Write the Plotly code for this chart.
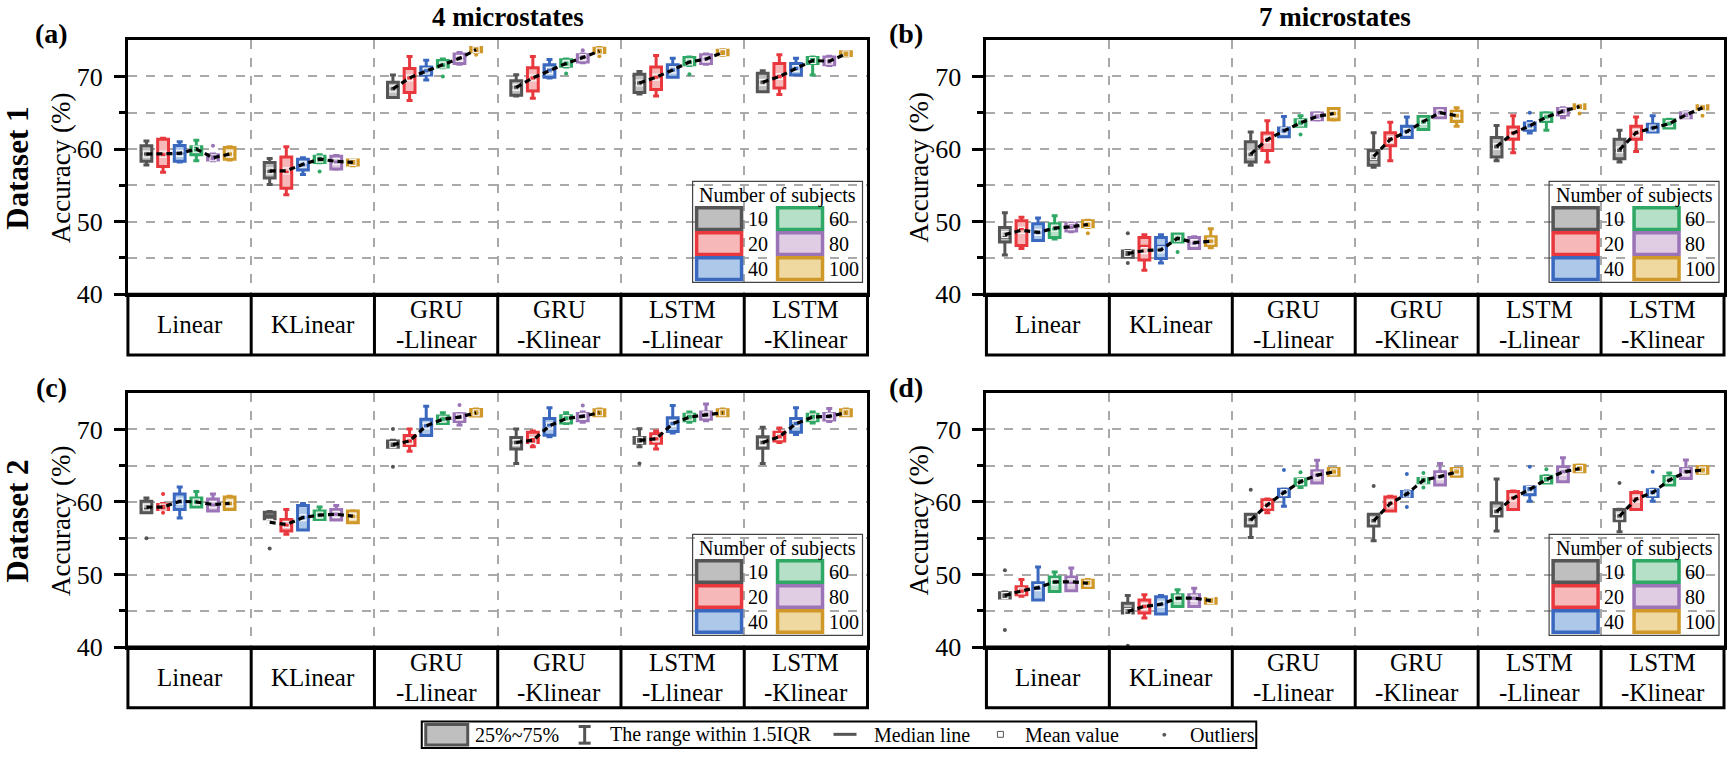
import plotly.graph_objects as go

W, H = 1727, 766
FONT = '"Liberation Serif", "Times New Roman", Times, serif'

CATEGORIES = ["Linear", "KLinear", "GRU\n-Llinear", "GRU\n-Klinear", "LSTM\n-Llinear", "LSTM\n-Klinear"]
SUBJECTS = ["10", "20", "40", "60", "80", "100"]
LINE_COLORS = ["#555555", "#e8383d", "#3a68bf", "#2ea864", "#9b74b7", "#cf9828"]
FILL_COLORS = ["#bfbfbf", "#f7b8b9", "#aec8e9", "#b6e0c8", "#e0cde4", "#efd9a1"]
Y_TICKS = [40, 50, 60, 70]
Y_MINOR = [45, 55, 65]

# each tuple: (lower whisker, q1, median, q3, upper whisker, mean) for 10,20,40,60,80,100 subjects
# ---------------- (a) Dataset 1, 4 microstates
A_LINEAR = [(57.8, 58.3, 59.3, 60.45, 61.1, 59.3), (56.8, 57.6, 59.2, 61.35, 61.5, 59.3), (58.2, 58.3, 59.4, 60.5, 61.0, 59.4),
            (58.4, 59.2, 59.8, 60.3, 61.2, 60.0), (58.4, 58.5, 58.8, 59.2, 59.3, 58.8), (58.5, 58.6, 59.3, 60.2, 60.3, 59.3)]
A_KLINEAR = [(55.1, 56.0, 56.9, 58.15, 58.7, 57.0), (53.7, 54.6, 56.8, 58.9, 60.3, 57.0), (56.5, 57.1, 57.8, 58.6, 58.8, 57.9),
             (58.1, 58.15, 58.6, 59.0, 59.2, 58.6), (57.2, 57.25, 58.2, 59.0, 59.1, 58.3), (57.7, 57.8, 58.2, 58.5, 58.5, 58.15)]
A_GRU_L = [(67.1, 67.1, 68.3, 69.2, 70.2, 68.3), (66.7, 67.8, 69.8, 71.1, 72.75, 69.8), (69.5, 70.2, 70.8, 71.3, 72.25, 70.75),
           (71.2, 71.3, 71.6, 72.2, 72.4, 71.6), (71.7, 71.8, 72.5, 73.1, 73.3, 72.5), (73.3, 73.4, 73.7, 74.0, 74.0, 73.7)]
A_GRU_K = [(67.3, 67.4, 68.5, 69.4, 70.25, 68.5), (67.0, 68.0, 69.8, 71.2, 72.75, 69.8), (69.8, 69.9, 70.9, 71.6, 72.35, 70.8),
           (71.3, 71.4, 71.8, 72.3, 72.4, 71.8), (71.9, 72.0, 72.6, 73.0, 73.1, 72.6), (73.2, 73.3, 73.6, 73.9, 74.0, 73.5)]
A_LSTM_L = [(67.6, 67.8, 69.1, 70.3, 70.7, 69.1), (67.3, 68.2, 69.9, 71.3, 72.9, 69.9), (69.9, 69.9, 70.9, 71.6, 72.5, 70.9),
            (71.5, 71.6, 72.0, 72.6, 72.7, 72.0), (71.7, 71.8, 72.4, 73.0, 73.1, 72.4), (72.9, 73.0, 73.3, 73.6, 73.7, 73.3)]
A_LSTM_K = [(67.9, 67.9, 69.2, 70.45, 70.8, 69.2), (67.5, 68.4, 70.0, 71.8, 73.0, 70.0), (70.2, 70.2, 71.1, 71.8, 72.5, 71.1),
            (70.2, 71.8, 72.2, 72.6, 72.7, 72.2), (71.5, 71.6, 72.1, 72.7, 72.8, 72.1), (72.8, 72.9, 73.1, 73.4, 73.4, 73.1)]
# outliers: (category index, subject index, value)
A_OUTLIERS = [(0, 4, 60.45), (1, 3, 56.9), (2, 3, 70.0), (2, 5, 73.0), (3, 3, 70.4), (3, 4, 73.6), (3, 5, 72.8), (4, 3, 70.3)]

# ---------------- (b) Dataset 1, 7 microstates
B_LINEAR = [(45.4, 47.2, 47.8, 49.2, 51.2, 48.2), (46.3, 46.7, 49.0, 50.1, 50.6, 48.8), (47.4, 47.4, 48.5, 49.7, 50.5, 48.5),
            (47.6, 47.8, 48.9, 49.7, 50.8, 49.1), (48.6, 48.7, 49.2, 49.7, 49.8, 49.3), (49.2, 49.3, 49.6, 50.1, 50.2, 49.6)]
B_KLINEAR = [(45.1, 45.1, 45.5, 45.95, 46.0, 45.6), (43.3, 44.7, 46.6, 47.8, 48.2, 46.0), (44.3, 44.9, 46.6, 47.8, 48.2, 46.1),
             (47.2, 47.2, 47.7, 48.3, 48.3, 47.7), (46.3, 46.3, 47.0, 47.8, 47.9, 47.1), (46.4, 46.7, 47.3, 47.9, 49.0, 47.3)]
B_GRU_L = [(57.75, 58.2, 59.2, 61.0, 62.35, 59.3), (58.2, 59.8, 61.2, 62.2, 63.9, 61.3), (61.7, 61.7, 62.5, 62.9, 64.5, 62.5),
           (63.15, 63.15, 63.6, 64.05, 64.6, 63.6), (64.0, 64.05, 64.5, 64.95, 65.0, 64.5), (64.0, 64.05, 64.9, 65.6, 65.6, 64.9)]
B_GRU_K = [(57.5, 57.75, 58.6, 59.8, 62.25, 59.0), (58.4, 60.45, 61.4, 62.25, 63.7, 61.3), (61.6, 61.6, 62.4, 63.15, 64.4, 62.4),
           (62.7, 62.7, 63.7, 64.5, 64.5, 63.8), (64.3, 64.3, 65.0, 65.6, 65.6, 65.0), (63.15, 63.8, 64.6, 65.2, 65.7, 64.6)]
B_LSTM_L = [(58.4, 58.9, 60.3, 61.6, 63.25, 60.35), (59.5, 61.35, 62.2, 63.05, 64.6, 62.2), (62.2, 62.6, 63.2, 63.6, 63.8, 63.2),
            (62.6, 63.8, 64.4, 64.95, 65.0, 64.4), (64.3, 64.7, 65.2, 65.6, 65.7, 65.2), (65.6, 65.6, 65.85, 66.1, 66.1, 65.85)]
B_LSTM_K = [(58.2, 58.65, 59.8, 61.35, 62.6, 59.9), (59.65, 61.35, 62.2, 63.15, 64.4, 62.25), (62.35, 62.35, 62.9, 63.4, 64.6, 62.9),
            (62.9, 62.9, 63.5, 64.05, 64.1, 63.5), (64.3, 64.3, 64.7, 65.0, 65.1, 64.7), (65.5, 65.5, 65.7, 65.95, 66.0, 65.7)]
B_OUTLIERS = [(0, 5, 48.4), (1, 0, 48.4), (1, 0, 44.3), (1, 3, 45.8), (2, 3, 62.0), (4, 2, 65.0), (4, 5, 64.9), (5, 5, 64.6)]

# ---------------- (c) Dataset 2, 4 microstates
C_LINEAR = [(58.5, 58.5, 59.0, 60.1, 60.55, 59.3), (58.95, 58.95, 59.2, 59.65, 59.8, 59.3), (57.8, 58.95, 60.0, 61.1, 62.05, 60.1),
            (59.3, 59.3, 60.0, 60.55, 61.45, 60.0), (58.75, 58.75, 59.6, 60.4, 61.1, 59.65), (58.95, 58.95, 59.8, 60.7, 60.8, 59.8)]
C_KLINEAR = [(57.7, 57.7, 58.1, 58.6, 58.7, 57.2), (55.55, 56.0, 56.8, 57.6, 58.95, 56.9), (56.15, 56.15, 57.9, 59.5, 59.8, 57.85),
             (57.6, 57.6, 58.2, 58.75, 59.3, 58.2), (57.5, 57.5, 58.3, 58.95, 59.5, 58.3), (57.15, 57.15, 58.0, 58.75, 58.8, 58.05)]
C_GRU_L = [(67.55, 67.55, 67.9, 68.4, 68.5, 67.9), (67.0, 67.8, 68.4, 69.15, 70.05, 68.4), (69.15, 69.15, 70.5, 71.4, 73.2, 70.5),
           (70.8, 70.8, 71.4, 71.85, 72.3, 71.4), (70.6, 71.1, 71.7, 72.15, 72.2, 71.7), (71.85, 71.85, 72.3, 72.75, 72.8, 72.3)]
C_GRU_K = [(65.3, 67.3, 68.2, 68.9, 70.05, 68.2), (67.6, 68.2, 68.6, 69.6, 69.8, 68.5), (69.0, 69.2, 70.6, 71.5, 73.0, 70.5),
           (70.8, 70.9, 71.5, 71.9, 72.3, 71.5), (71.0, 71.2, 71.8, 72.2, 72.4, 71.8), (71.9, 71.9, 72.3, 72.7, 72.8, 72.3)]
C_LSTM_L = [(67.6, 68.1, 68.5, 68.9, 70.1, 68.5), (67.3, 68.1, 68.7, 69.4, 69.8, 68.7), (69.5, 69.7, 70.8, 71.6, 73.3, 70.8),
            (71.0, 71.2, 71.7, 72.1, 72.4, 71.7), (71.2, 71.4, 72.0, 72.4, 73.5, 72.0), (71.9, 71.9, 72.3, 72.7, 72.8, 72.3)]
C_LSTM_K = [(65.3, 67.4, 68.2, 69.0, 70.3, 68.2), (68.2, 68.4, 69.0, 69.6, 70.2, 69.0), (69.3, 69.6, 70.8, 71.5, 73.0, 70.8),
            (70.9, 71.2, 71.7, 72.1, 72.4, 71.7), (71.1, 71.3, 71.8, 72.2, 72.9, 71.8), (71.9, 71.9, 72.3, 72.7, 72.8, 72.3)]
C_OUTLIERS = [(0, 0, 55.0), (0, 1, 61.1), (0, 1, 58.5), (1, 0, 53.6), (2, 0, 70.05), (2, 0, 64.85), (2, 4, 73.35),
              (3, 4, 73.3), (4, 0, 65.3)]

# ---------------- (d) Dataset 2, 7 microstates
D_LINEAR = [(46.75, 46.75, 47.1, 47.5, 47.6, 47.1), (47.0, 47.2, 47.7, 48.3, 49.3, 47.75), (46.5, 46.5, 48.0, 48.85, 51.05, 48.2),
            (47.65, 47.65, 48.9, 49.65, 50.35, 49.0), (47.75, 47.75, 48.8, 49.65, 50.9, 49.0), (48.2, 48.2, 48.8, 49.2, 49.3, 48.8)]
D_KLINEAR = [(44.7, 44.7, 45.3, 46.05, 47.1, 44.9), (44.0, 44.7, 45.6, 46.5, 47.2, 45.6), (44.55, 44.55, 45.9, 46.95, 47.1, 45.9),
             (45.6, 45.6, 46.7, 47.2, 47.9, 46.75), (45.6, 45.6, 46.7, 47.2, 48.1, 46.75), (46.05, 46.05, 46.4, 46.7, 46.7, 46.4)]
D_GRU_L = [(55.1, 56.7, 57.6, 58.3, 58.3, 57.5), (58.5, 58.95, 59.6, 60.3, 60.4, 59.6), (59.4, 60.75, 61.3, 61.75, 61.8, 61.3),
           (62.0, 62.35, 62.8, 63.15, 63.2, 62.8), (62.6, 62.6, 63.7, 64.3, 65.75, 63.7), (63.7, 63.7, 64.15, 64.6, 64.6, 64.15)]
D_GRU_K = [(54.65, 56.7, 57.4, 58.3, 58.3, 57.4), (58.75, 58.75, 59.8, 60.7, 60.8, 59.8), (60.75, 60.75, 61.1, 61.45, 61.5, 61.1),
           (62.65, 62.65, 63.0, 63.25, 63.3, 63.0), (62.35, 62.35, 63.5, 64.15, 65.3, 63.5), (63.55, 63.55, 64.15, 64.6, 64.6, 64.15)]
D_LSTM_L = [(56.0, 58.05, 58.7, 59.85, 63.15, 58.7), (58.95, 58.95, 60.55, 61.45, 61.5, 60.55), (60.1, 61.0, 61.75, 62.05, 62.1, 61.75),
            (62.6, 62.6, 63.1, 63.55, 63.6, 63.1), (62.8, 62.8, 64.15, 64.85, 66.1, 64.15), (64.15, 64.15, 64.6, 65.05, 65.1, 64.6)]
D_LSTM_K = [(55.9, 57.4, 58.05, 58.95, 59.0, 58.05), (58.95, 58.95, 60.4, 61.3, 61.4, 60.4), (60.1, 60.75, 61.3, 61.7, 61.75, 61.3),
            (62.35, 62.35, 63.0, 63.5, 64.0, 63.0), (63.25, 63.25, 64.15, 64.6, 65.8, 64.15), (63.95, 63.95, 64.4, 64.85, 64.9, 64.4)]
D_OUTLIERS = [(0, 0, 50.6), (0, 0, 42.35), (1, 0, 40.2), (2, 0, 61.7), (2, 2, 64.4), (2, 3, 64.1), (3, 0, 62.2),
              (3, 2, 63.85), (3, 2, 59.3), (3, 3, 64.0), (3, 3, 62.0), (4, 2, 64.85), (4, 3, 64.5), (5, 0, 62.6), (5, 2, 64.15)]

COLUMN_TITLES = ["4 microstates", "7 microstates"]
ROW_TITLES = ["Dataset 1", "Dataset 2"]

# ---------------- geometry (pixels)
PANELS = [
    dict(tag="(a)", data=[A_LINEAR, A_KLINEAR, A_GRU_L, A_GRU_K, A_LSTM_L, A_LSTM_K], out=A_OUTLIERS,
         left=128, right=868, top=41, bottom=300, row_bottom=362, lab=(52, 34)),
    dict(tag="(b)", data=[B_LINEAR, B_KLINEAR, B_GRU_L, B_GRU_K, B_LSTM_L, B_LSTM_K], out=B_OUTLIERS,
         left=987, right=1725, top=41, bottom=300, row_bottom=362, lab=(907, 34)),
    dict(tag="(c)", data=[C_LINEAR, C_KLINEAR, C_GRU_L, C_GRU_K, C_LSTM_L, C_LSTM_K], out=C_OUTLIERS,
         left=128, right=868, top=401, bottom=660, row_bottom=722, lab=(52, 395)),
    dict(tag="(d)", data=[D_LINEAR, D_KLINEAR, D_GRU_L, D_GRU_K, D_LSTM_L, D_LSTM_K], out=D_OUTLIERS,
         left=987, right=1725, top=401, bottom=660, row_bottom=722, lab=(907, 395)),
]
OFFSET, STEP, BOX_W = 0.15, 0.135, 0.088
GRID_COLOR = "#a9a9a9"

fig = go.Figure()
annotations, shapes = [], []


def px(x):
    return x / W


def py(y):
    return 1 - y / H


def text(x, y, s, size, bold=False, xanchor="center", angle=0):
    annotations.append(dict(x=px(x), y=py(y), xref="paper", yref="paper", showarrow=False,
                            text=f"<b>{s}</b>" if bold else s, textangle=angle,
                            font=dict(family=FONT, size=size, color="black"),
                            xanchor=xanchor, yanchor="middle", borderpad=0))


def rect(x0, y0, x1, y1, color, width, fill="rgba(0,0,0,0)"):
    shapes.append(dict(type="rect", xref="paper", yref="paper", x0=px(x0), x1=px(x1), y0=py(y1), y1=py(y0),
                       line=dict(color=color, width=width), fillcolor=fill, layer="above"))


def seg(x0, y0, x1, y1, color, width):
    shapes.append(dict(type="line", xref="paper", yref="paper", x0=px(x0), x1=px(x1), y0=py(y0), y1=py(y1),
                       line=dict(color=color, width=width), layer="above"))


for k, p in enumerate(PANELS):
    xa = "x" if k == 0 else f"x{k + 1}"
    ya = "y" if k == 0 else f"y{k + 1}"
    data = p["data"]
    # boxes
    for j in range(len(SUBJECTS)):
        xs = [i + OFFSET + j * STEP for i in range(len(CATEGORIES))]
        fig.add_trace(go.Box(
            x=xs,
            lowerfence=[data[i][j][0] for i in range(len(CATEGORIES))],
            q1=[data[i][j][1] for i in range(len(CATEGORIES))],
            median=[data[i][j][2] for i in range(len(CATEGORIES))],
            q3=[data[i][j][3] for i in range(len(CATEGORIES))],
            upperfence=[data[i][j][4] for i in range(len(CATEGORIES))],
            width=BOX_W, whiskerwidth=0.55, boxpoints=False,
            line=dict(color=LINE_COLORS[j], width=3), fillcolor=FILL_COLORS[j],
            xaxis=xa, yaxis=ya, showlegend=False, hoverinfo="skip"))
    # outliers
    for j in range(len(SUBJECTS)):
        ox = [c + OFFSET + j * STEP for (c, s, v) in p["out"] if s == j]
        oy = [v for (c, s, v) in p["out"] if s == j]
        if ox:
            fig.add_trace(go.Scatter(x=ox, y=oy, mode="markers", xaxis=xa, yaxis=ya, showlegend=False,
                                     marker=dict(symbol="circle", size=4, color=LINE_COLORS[j]), hoverinfo="skip"))
    # mean markers
    for j in range(len(SUBJECTS)):
        fig.add_trace(go.Scatter(
            x=[i + OFFSET + j * STEP for i in range(len(CATEGORIES))],
            y=[data[i][j][5] for i in range(len(CATEGORIES))], mode="markers", xaxis=xa, yaxis=ya,
            showlegend=False, hoverinfo="skip",
            marker=dict(symbol="square-open", size=6, color="#f4f4f4", line=dict(width=1.2))))
    # dashed line through means
    lx, ly = [], []
    for i in range(len(CATEGORIES)):
        for j in range(len(SUBJECTS)):
            lx.append(i + OFFSET + j * STEP)
            ly.append(data[i][j][5])
        lx.append(None)
        ly.append(None)
    fig.add_trace(go.Scatter(x=lx, y=ly, mode="lines", xaxis=xa, yaxis=ya, showlegend=False, hoverinfo="skip",
                             line=dict(color="black", width=3.2, dash="6px,4px")))

    xdom = [px(p["left"]), px(p["right"])]
    ydom = [py(p["bottom"]), py(p["top"])]
    fig.layout[("xaxis" if k == 0 else f"xaxis{k + 1}")] = dict(
        domain=xdom, range=[0, len(CATEGORIES)], anchor=ya, tickvals=list(range(1, len(CATEGORIES))),
        showticklabels=False, ticks="", showgrid=True, gridcolor=GRID_COLOR, griddash="dash", gridwidth=1.5,
        showline=True, linewidth=3, linecolor="black", mirror=True, zeroline=False, fixedrange=True)
    fig.layout[("yaxis" if k == 0 else f"yaxis{k + 1}")] = dict(
        domain=ydom, range=[40, 75], anchor=xa, tickvals=Y_TICKS, ticks="outside", ticklen=11, tickwidth=3,
        tickcolor="black", ticklabelstandoff=6,
        tickfont=dict(family=FONT, size=26, color="black"), showgrid=True, gridcolor=GRID_COLOR,
        griddash="dash", gridwidth=1.5, showline=True, linewidth=3, linecolor="black", mirror=True,
        zeroline=False, fixedrange=True,
        minor=dict(tickvals=Y_MINOR, ticks="outside", ticklen=6, tickwidth=3, tickcolor="black",
                   showgrid=True, gridcolor=GRID_COLOR, griddash="dash", gridwidth=1.5))

    # y title
    text(p["left"] - 67, (p["top"] + p["bottom"]) / 2, "Accuracy (%)", 27, angle=-90)
    # panel tag
    text(p["lab"][0], p["lab"][1], p["tag"], 28, bold=True)

    # category row
    L, R, B, RB = p["left"], p["right"], p["bottom"], p["row_bottom"]
    cw = (R - L) / len(CATEGORIES)
    rect(L, B, R, RB, "black", 3)
    for i in range(1, len(CATEGORIES)):
        seg(L + i * cw, B, L + i * cw, RB, "black", 3)
    for i, c in enumerate(CATEGORIES):
        lines = c.split("\n")
        cx = L + (i + 0.5) * cw
        cy = (B + RB) / 2
        if len(lines) == 1:
            text(cx, cy, lines[0], 25)
        else:
            text(cx, cy - 15, lines[0], 25)
            text(cx, cy + 15, lines[1], 25)

    # inner legend
    lgL, lgT = R - 5 - 170, B - 12 - 103
    rect(lgL, lgT, lgL + 170, lgT + 103, "#444444", 1.2)
    text(lgL + 85, lgT + 14, "Number of subjects", 20)
    order = [0, 3, 1, 4, 2, 5]
    for n, j in enumerate(order):
        col, row = n % 2, n // 2
        sx = lgL + 4 + col * 81
        sy = lgT + 38 + row * 25.5
        rect(sx, sy - 11, sx + 45, sy + 11, LINE_COLORS[j], 3.5, FILL_COLORS[j])
        text(sx + 50, sy, SUBJECTS[j], 20, xanchor="left")

# column / row titles
text(508, 17, COLUMN_TITLES[0], 27, bold=True)
text(1336, 17, COLUMN_TITLES[1], 27, bold=True)
text(18, 171, ROW_TITLES[0], 31, bold=True, angle=-90)
text(18, 531, ROW_TITLES[1], 31, bold=True, angle=-90)

# bottom legend
rect(422, 736, 1257, 763, "black", 2)
rect(426, 739, 468, 760, "#555555", 3, "#bfbfbf")
text(474, 749.5, "25%~75%", 20, xanchor="left")
seg(585, 741, 585, 758, "#555555", 3)
seg(579, 741, 591, 741, "#555555", 3)
seg(579, 758, 591, 758, "#555555", 3)
text(609, 749.5, "The range within 1.5IQR", 20, xanchor="left")
seg(834, 749, 857, 749, "#555555", 3)
text(874, 749.5, "Median line", 20, xanchor="left")
rect(998, 746, 1004, 752, "#555555", 1)
text(1025, 749.5, "Mean value", 20, xanchor="left")
shapes.append(dict(type="circle", xref="paper", yref="paper", x0=px(1163.5), x1=px(1166.5), y0=py(751), y1=py(748),
                   line=dict(color="#555555", width=1), fillcolor="#555555"))
text(1190, 749.5, "Outliers", 20, xanchor="left")

fig.update_layout(width=W, height=H, margin=dict(l=0, r=0, t=0, b=0), paper_bgcolor="white",
                  plot_bgcolor="white", showlegend=False, annotations=annotations, shapes=shapes,
                  boxmode="overlay", font=dict(family=FONT, color="black"))

fig.write_html("out.html")
